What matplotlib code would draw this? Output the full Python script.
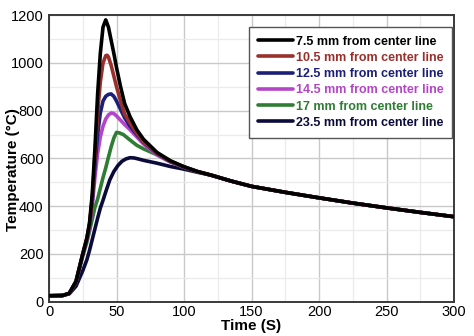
import numpy as np
import matplotlib
matplotlib.use("Agg")
import matplotlib.pyplot as plt
from matplotlib.ticker import MultipleLocator

plt.rcParams['font.family'] = ['Liberation Sans', 'DejaVu Sans']

# shared cooling tail (all curves merge after ~120 s)
tail_t = [120, 135, 150, 175, 200, 225, 250, 275, 300]
tail_v = [530, 505, 483, 458, 435, 413, 393, 374, 356]

# heating part of each curve
t_75 = [0, 10, 15, 20, 25, 28, 30, 32, 34, 36, 38, 40, 42, 44, 46, 48, 50, 53, 56, 60, 65, 70, 80, 90, 100, 110]
v_75 = [25, 26, 35, 85, 200, 265, 330, 450, 640, 870, 1040, 1150, 1180, 1150, 1095, 1040, 980, 900, 830, 775, 720, 680, 625, 590, 565, 545]

t_105 = [0, 10, 15, 20, 25, 28, 30, 32, 34, 36, 38, 40, 42, 43, 44, 46, 48, 50, 53, 56, 60, 65, 70, 80, 90, 100, 110]
v_105 = [25, 26, 35, 85, 200, 265, 325, 430, 610, 790, 920, 1000, 1030, 1032, 1025, 990, 945, 900, 840, 785, 748, 705, 670, 622, 588, 564, 545]

t_125 = [0, 10, 15, 20, 25, 28, 30, 32, 34, 36, 38, 40, 42, 44, 46, 48, 50, 53, 56, 60, 65, 70, 80, 90, 100, 110]
v_125 = [25, 26, 35, 85, 200, 262, 320, 420, 570, 700, 790, 840, 860, 868, 870, 860, 840, 805, 770, 735, 700, 668, 620, 587, 565, 545]

t_145 = [0, 10, 15, 20, 25, 28, 30, 32, 34, 36, 38, 40, 42, 44, 46, 48, 50, 53, 56, 60, 65, 70, 80, 90, 100, 110]
v_145 = [25, 26, 35, 85, 198, 258, 312, 400, 520, 620, 690, 735, 765, 782, 790, 788, 778, 760, 742, 720, 690, 660, 615, 585, 563, 545]

t_17 = [0, 10, 15, 20, 25, 28, 30, 32, 34, 36, 38, 40, 42, 44, 46, 48, 50, 52, 55, 60, 65, 70, 80, 90, 100, 110]
v_17 = [25, 26, 35, 82, 190, 248, 295, 345, 395, 430, 475, 520, 560, 605, 648, 685, 709, 707, 700, 677, 655, 640, 615, 585, 563, 544]

t_235 = [0, 10, 15, 20, 25, 28, 30, 32, 34, 36, 38, 40, 42, 45, 48, 51, 54, 57, 60, 63, 66, 70, 80, 90, 100, 110]
v_235 = [25, 26, 33, 65, 130, 175, 215, 260, 305, 350, 392, 425, 460, 510, 545, 570, 588, 598, 603, 602, 598, 592, 580, 566, 555, 542]

labels = ['7.5 mm from center line', '10.5 mm from center line', '12.5 mm from center line',
          '14.5 mm from center line', '17 mm from center line', '23.5 mm from center line']
colors = ['#000000', '#9a2f2b', '#1c1f78', '#b545c8', '#2f7d34', '#0b0b3b']

series = [(t_75, v_75), (t_105, v_105), (t_125, v_125), (t_145, v_145), (t_17, v_17), (t_235, v_235)]

fig = plt.figure(figsize=(4.74, 3.36), dpi=100)
ax = fig.add_axes([0.1034, 0.102, 0.8546, 0.853])

# draw back to front so the hottest curve sits on top
for i in reversed(range(len(series))):
    t, v = series[i]
    tt = list(t) + tail_t
    vv = list(v) + tail_v
    ax.plot(tt, vv, color=colors[i], lw=2.6, label=labels[i], solid_capstyle='round',
            solid_joinstyle='round', zorder=3 + (6 - i))

ax.set_xlim(0, 300)
ax.set_ylim(0, 1200)
ax.xaxis.set_major_locator(MultipleLocator(50))
ax.xaxis.set_minor_locator(MultipleLocator(25))
ax.yaxis.set_major_locator(MultipleLocator(200))
ax.yaxis.set_minor_locator(MultipleLocator(100))
ax.grid(which='major', color='#c9c9c9', lw=1.0)
ax.grid(which='minor', color='#ebebeb', lw=0.9)
ax.set_axisbelow(True)
ax.tick_params(which='both', length=0, labelsize=10.5, pad=2)
ax.tick_params(axis='y', pad=4)
for s in ax.spines.values():
    s.set_color('#3a3a3a')
    s.set_linewidth(1.4)

ax.set_xlabel('Time (S)', fontsize=11, fontweight='bold', labelpad=0)
ax.set_ylabel('Temperature (°C)', fontsize=11, fontweight='bold')
ax.yaxis.set_label_coords(-0.071, 0.46)

handles, labs = ax.get_legend_handles_labels()
order = [labs.index(l) for l in labels]
leg = ax.legend([handles[k] for k in order], labels, loc='upper right',
                bbox_to_anchor=(0.996, 0.96), borderaxespad=0, fancybox=False, framealpha=1,
                edgecolor='#555555', handlelength=2.8, handletextpad=0.2,
                labelspacing=0.34, borderpad=0.72, prop={'weight': 'bold', 'size': 9})
leg.get_frame().set_linewidth(1.0)
for txt, c in zip(leg.get_texts(), colors):
    txt.set_color(c)

fig.savefig('out.png', dpi=100)
